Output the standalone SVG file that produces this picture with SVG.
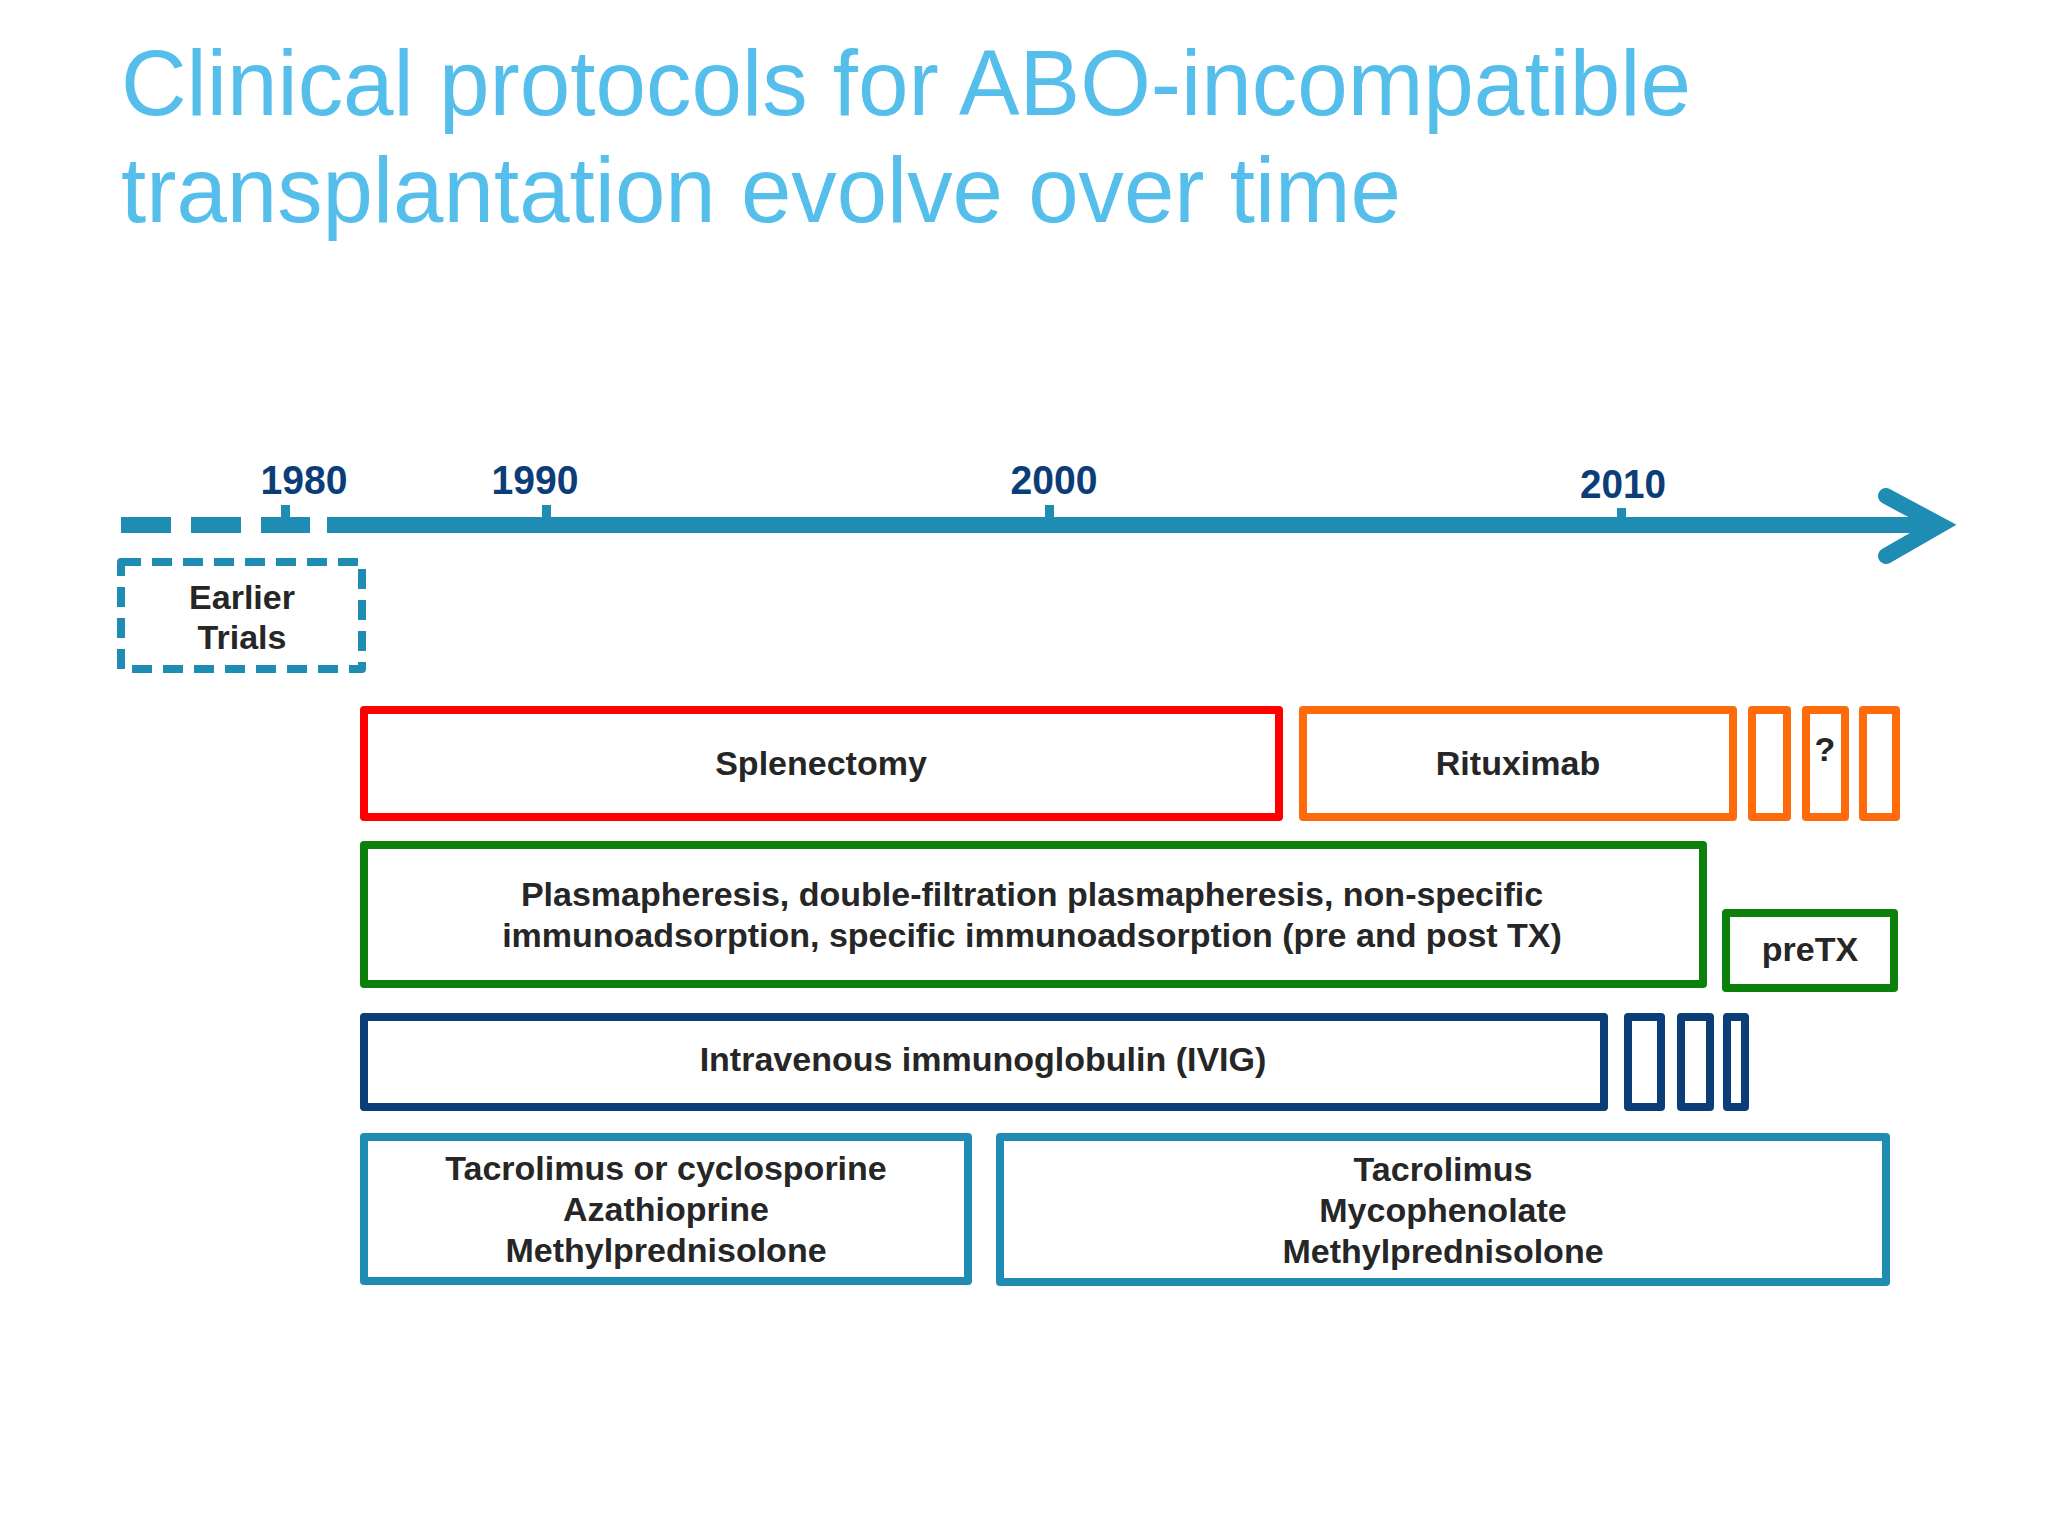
<svg xmlns="http://www.w3.org/2000/svg" width="2048" height="1536" viewBox="0 0 2048 1536">
  <style>
    .title { font-family: "Liberation Sans", Arial, sans-serif; font-size: 92px; fill: #55BEEB; }
    .year { font-family: "Liberation Sans", Arial, sans-serif; font-weight: bold; font-size: 40px; fill: #0B3D78; text-anchor: middle; }
    .lbl { font-family: "Liberation Sans", Arial, sans-serif; font-weight: bold; font-size: 34px; fill: #262626; text-anchor: middle; }
    .box { fill: none; stroke-width: 8; stroke-linejoin: round; }
    .red { stroke: #FF0000; }
    .orange { stroke: #FF6A0A; }
    .green { stroke: #0B800B; }
    .navy { stroke: #0B3D78; }
    .teal { stroke: #1F8DB3; }
    .axis { stroke: #1F8DB3; stroke-width: 16; fill: none; }
  </style>
  <rect width="2048" height="1536" fill="#FFFFFF"/>

  <g id="title">
    <text class="title" x="121" y="115" textLength="1570" lengthAdjust="spacingAndGlyphs">Clinical protocols for ABO-incompatible</text>
    <text class="title" x="121" y="222" textLength="1280" lengthAdjust="spacingAndGlyphs">transplantation evolve over time</text>
  </g>

  <g id="timeline">
    <line class="axis" x1="121" y1="525" x2="310" y2="525" stroke-dasharray="50 20"/>
    <line class="axis" x1="327" y1="525" x2="1932" y2="525"/>
    <polyline class="axis" points="1886,496 1940,525 1886,556" stroke-linecap="round" stroke-linejoin="miter"/>
    <rect x="281" y="505" width="9" height="20" fill="#1F8DB3"/>
    <rect x="542" y="505" width="9" height="20" fill="#1F8DB3"/>
    <rect x="1045" y="505" width="9" height="20" fill="#1F8DB3"/>
    <rect x="1617" y="508" width="9" height="17" fill="#1F8DB3"/>
    <text class="year" x="304" y="494" textLength="87" lengthAdjust="spacingAndGlyphs">1980</text>
    <text class="year" x="535" y="494" textLength="87" lengthAdjust="spacingAndGlyphs">1990</text>
    <text class="year" x="1054" y="494" textLength="87" lengthAdjust="spacingAndGlyphs">2000</text>
    <text class="year" x="1623" y="498" textLength="86" lengthAdjust="spacingAndGlyphs">2010</text>
  </g>

  <g id="earlier-trials">
    <rect class="box teal" x="121" y="562" width="241" height="107" stroke-width="6" stroke-dasharray="20 11"/>
    <text class="lbl" x="242" y="609">Earlier</text>
    <text class="lbl" x="242" y="649">Trials</text>
  </g>

  <g id="splenectomy">
    <rect class="box red" x="364" y="710" width="915" height="107"/>
    <text class="lbl" x="821" y="775">Splenectomy</text>
  </g>

  <g id="rituximab">
    <rect class="box orange" x="1303" y="710" width="430" height="107"/>
    <text class="lbl" x="1518" y="775">Rituximab</text>
  </g>

  <g id="rituximab-future">
    <rect class="box orange" x="1752" y="710" width="35" height="107"/>
    <rect class="box orange" x="1806" y="710" width="39" height="107"/>
    <rect class="box orange" x="1863" y="710" width="33" height="107"/>
    <text class="lbl" x="1825" y="761" font-size="28">?</text>
  </g>

  <g id="plasmapheresis">
    <rect class="box green" x="364" y="845" width="1339" height="139"/>
    <text class="lbl" x="1032" y="906">Plasmapheresis, double-filtration plasmapheresis, non-specific</text>
    <text class="lbl" x="1032" y="947">immunoadsorption, specific immunoadsorption (pre and post TX)</text>
  </g>

  <g id="pretx">
    <rect class="box green" x="1726" y="913" width="168" height="75"/>
    <text class="lbl" x="1810" y="961">preTX</text>
  </g>

  <g id="ivig">
    <rect class="box navy" x="364" y="1017" width="1240" height="90"/>
    <text class="lbl" x="983" y="1071">Intravenous immunoglobulin (IVIG)</text>
  </g>

  <g id="ivig-future">
    <rect class="box navy" x="1628" y="1017" width="33" height="90"/>
    <rect class="box navy" x="1681" y="1017" width="29" height="90"/>
    <rect class="box navy" x="1727" y="1017" width="18" height="90"/>
  </g>

  <g id="immunosuppression-early">
    <rect class="box teal" x="364" y="1137" width="604" height="144"/>
    <text class="lbl" x="666" y="1180">Tacrolimus or cyclosporine</text>
    <text class="lbl" x="666" y="1221">Azathioprine</text>
    <text class="lbl" x="666" y="1262">Methylprednisolone</text>
  </g>

  <g id="immunosuppression-current">
    <rect class="box teal" x="1000" y="1137" width="886" height="145"/>
    <text class="lbl" x="1443" y="1181">Tacrolimus</text>
    <text class="lbl" x="1443" y="1222">Mycophenolate</text>
    <text class="lbl" x="1443" y="1263">Methylprednisolone</text>
  </g>
</svg>
